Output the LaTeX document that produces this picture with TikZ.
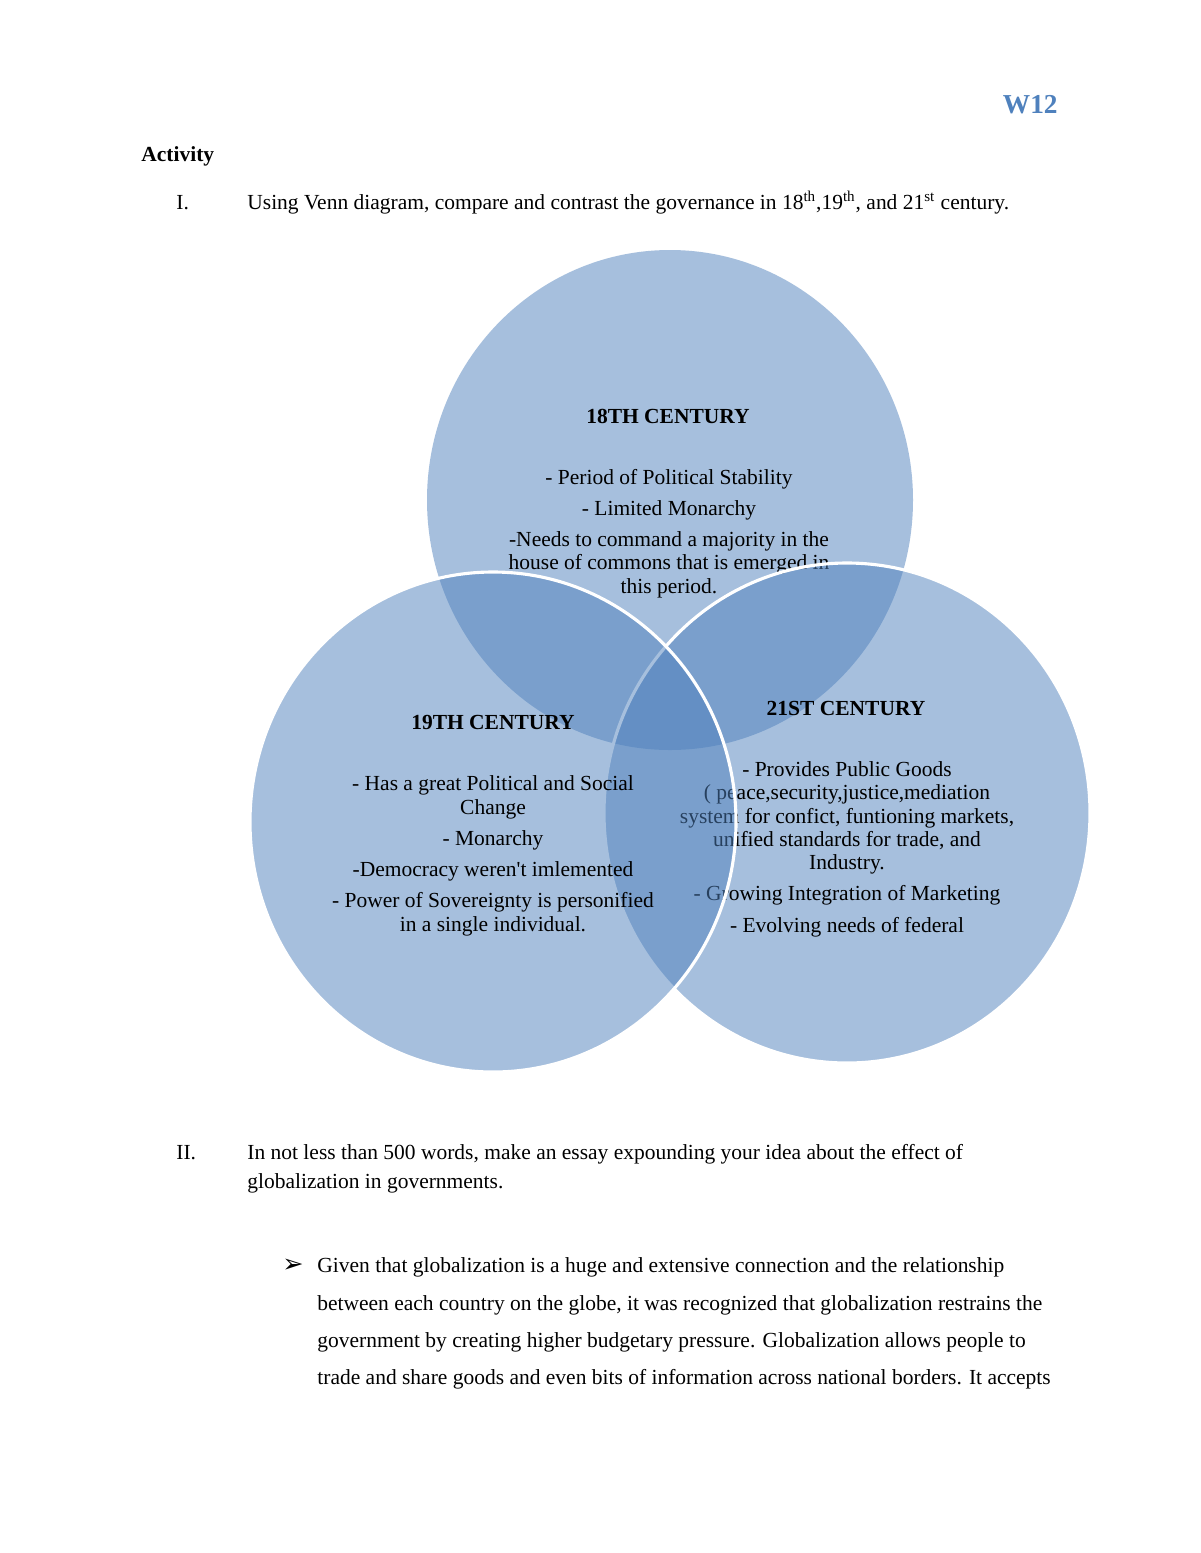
\documentclass[tikz,border=0pt]{standalone}
\usepackage{fontspec}
\setmainfont{Liberation Serif}
\newfontfamily\symfont{DejaVu Sans}
\usetikzlibrary{positioning}
\definecolor{vennblue}{HTML}{4F81BD}
\definecolor{inkblack}{HTML}{000000}

\begin{document}
\begin{tikzpicture}[
  x=0.51191pt, y=-0.51191pt,
  venn/.style={fill=vennblue, fill opacity=0.5},
  vennline/.style={draw=white, line width=1.6pt},
  head/.style={inkblack, inner sep=0pt, font=\fontsize{11}{12}\selectfont\bfseries},
  item/.style={inkblack, inner sep=0pt, align=center, font=\fontsize{11}{12}\selectfont},
  body/.style={inkblack, inner sep=0pt, anchor=base west, font=\fontsize{11}{13}\selectfont},
]

% ===== Page =====
\path[use as bounding box, fill=white] (0,0) rectangle (1200,1553);

\node[anchor=base east, inner sep=0pt, text=vennblue, font=\fontsize{14}{16}\selectfont\bfseries] (tag) at (1058,113) {W12};
\node[body, font=\fontsize{11}{13}\selectfont\bfseries] (act) at (141,161) {Activity};
\node[body] (numI) at (176,209) {I.};
\node[body] (taskI) at (247,209) {Using Venn diagram, compare and contrast the governance in 18\textsuperscript{th},19\textsuperscript{th}, and 21\textsuperscript{st} century.};

% ===== Venn diagram =====
% 18th century (top)
\fill[venn] (670,500) ellipse (243 and 250);
\node[head, anchor=base] (h18) at (668,423) {18TH CENTURY};
\node[item, anchor=base] (b18) at (669,593) {- Period of Political Stability\\[3.9pt]
  - Limited Monarchy\\[3.9pt]
  -Needs to command a majority in the\\
  house of commons that is emerged in\\
  this period.};

% 21st century (right)
\draw[venn, vennline] (847,813) ellipse (243 and 250);
\node[head, anchor=base] (h21) at (846,715) {21ST CENTURY};
\node[item, anchor=base] (b21) at (847,932) {- Provides Public Goods\\
  ( peace,security,justice,mediation\\
  system for confict, funtioning markets,\\
  unified standards for trade, and\\
  Industry.\\[3.9pt]
  - Growing Integration of Marketing\\[3.9pt]
  - Evolving needs of federal};

% 19th century (left)
\draw[venn, vennline] (493,822) ellipse (243 and 250);
\node[head, anchor=base] (h19) at (493,729) {19TH CENTURY};
\node[item, anchor=base] (b19) at (493,931) {- Has a great Political and Social\\
  Change\\[3.9pt]
  - Monarchy\\[3.9pt]
  -Democracy weren\textquotesingle t imlemented\\[3.9pt]
  - Power of Sovereignty is personified\\
  in a single individual.};

% ===== Part II =====
\node[body] (numII) at (176,1159) {II.};
\node[body] (taskII) at (247,1159) {In not less than 500 words, make an essay expounding your idea about the effect of};
\node[body] (taskIIb) at (247,1188) {globalization in governments.};

\node[body, font=\fontsize{13}{13}\symfont] (bul) at (282,1272) {➢};
\node[body] (essA) at (317,1272) {Given that globalization is a huge and extensive connection and the relationship};
\node[body] (essB) at (317,1310) {between each country on the globe, it was recognized that globalization restrains the};
\node[body] (essC) at (317,1347) {government by creating higher budgetary pressure. Globalization allows people to};
\node[body] (essD) at (317,1384) {trade and share goods and even bits of information across national borders. It accepts};

\end{tikzpicture}
\end{document}
